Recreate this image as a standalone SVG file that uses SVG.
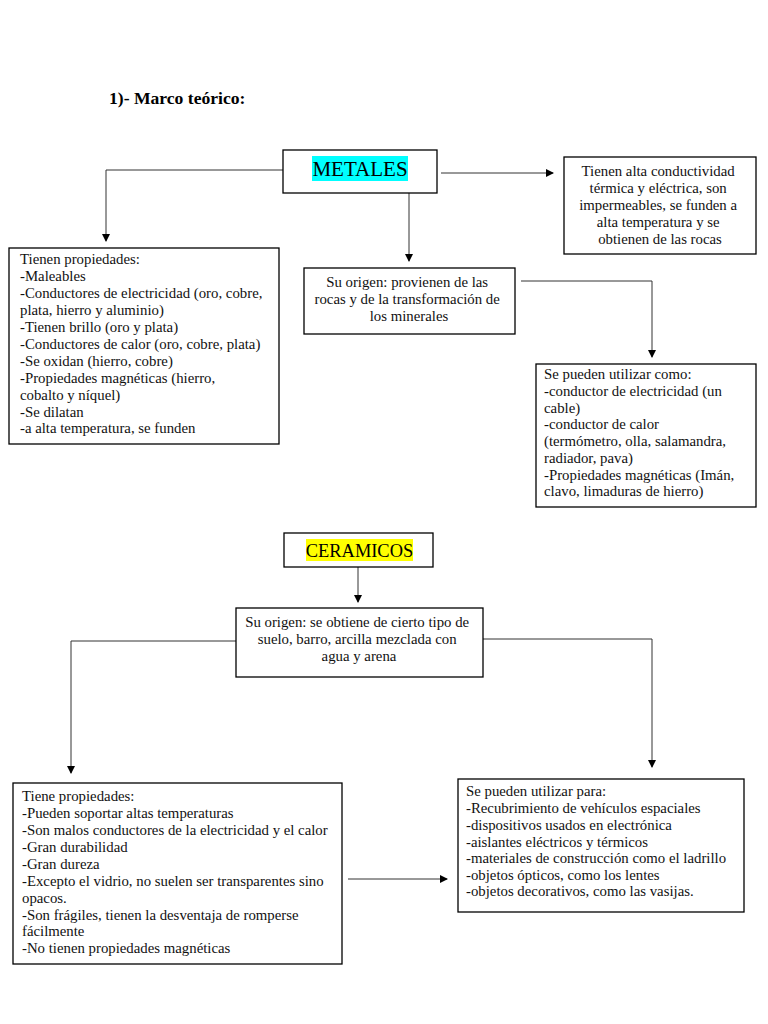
<svg xmlns="http://www.w3.org/2000/svg" width="768" height="1024" viewBox="0 0 768 1024">
<defs>
<marker id="ah" markerWidth="8" markerHeight="8" refX="7" refY="4" orient="auto" markerUnits="userSpaceOnUse">
<path d="M0,0 L8,4 L0,8 Z" fill="#000"/>
</marker>
<style>
.box{fill:#fff;stroke:#000;stroke-width:1.3}
.t{font-family:"Liberation Serif","DejaVu Serif",serif;font-size:14.8px;fill:#111}
.c{text-anchor:middle}
.big{font-family:"Liberation Serif","DejaVu Serif",serif;font-size:21px;fill:#000}
.ln{fill:none;stroke:#333;stroke-width:1}
</style>
</defs>
<rect width="768" height="1024" fill="#fff"/>
<text x="109" y="104" style="font-family:'Liberation Serif',serif;font-size:17.6px;font-weight:bold">1)- Marco teórico:</text>

<g id="connectors">
<polyline class="ln" points="283,170 106,170 106,241" marker-end="url(#ah)"/>
<line class="ln" x1="441" y1="173" x2="553" y2="173" marker-end="url(#ah)"/>
<line class="ln" x1="409" y1="193" x2="409" y2="261" marker-end="url(#ah)"/>
<polyline class="ln" points="521,281 652,281 652,357" marker-end="url(#ah)"/>
<line class="ln" x1="358" y1="567" x2="358" y2="602" marker-end="url(#ah)"/>
<polyline class="ln" points="236,641 71,641 71,773" marker-end="url(#ah)"/>
<polyline class="ln" points="483,639 652,639 652,767" marker-end="url(#ah)"/>
<line class="ln" x1="348" y1="879" x2="447" y2="879" marker-end="url(#ah)"/>
</g>

<g id="metales">
<rect class="box" x="283" y="150" width="154" height="43"/>
<rect x="312" y="156" width="96" height="25" fill="#00ffff"/>
<text class="big c" x="360" y="176">METALES</text>
</g>

<g id="metales-caract">
<rect class="box" x="564" y="157" width="192" height="97"/>
<text class="t c" x="660">
<tspan x="660" y="176">Tienen alta conductividad</tspan>
<tspan x="660" y="193">térmica y eléctrica, son</tspan>
<tspan x="660" y="210">impermeables, se funden a</tspan>
<tspan x="660" y="227">alta temperatura y se</tspan>
<tspan x="660" y="244">obtienen de las rocas</tspan>
</text>
</g>

<g id="metales-prop">
<rect class="box" x="9" y="248" width="270" height="196"/>
<text class="t">
<tspan x="20" y="264">Tienen propiedades:</tspan>
<tspan x="20" y="281">-Maleables</tspan>
<tspan x="20" y="298">-Conductores de electricidad (oro, cobre,</tspan>
<tspan x="20" y="315">plata, hierro y aluminio)</tspan>
<tspan x="20" y="332">-Tienen brillo (oro y plata)</tspan>
<tspan x="20" y="349">-Conductores de calor (oro, cobre, plata)</tspan>
<tspan x="20" y="366">-Se oxidan (hierro, cobre)</tspan>
<tspan x="20" y="383">-Propiedades magnéticas (hierro,</tspan>
<tspan x="20" y="400">cobalto y níquel)</tspan>
<tspan x="20" y="417">-Se dilatan</tspan>
<tspan x="20" y="433">-a alta temperatura, se funden</tspan>
</text>
</g>

<g id="metales-origen">
<rect class="box" x="304" y="268" width="211" height="66"/>
<text class="t c">
<tspan x="409" y="287">Su origen: provienen de las</tspan>
<tspan x="409" y="304">rocas y de la transformación de</tspan>
<tspan x="409" y="321">los minerales</tspan>
</text>
</g>

<g id="metales-usos">
<rect class="box" x="536" y="364" width="220" height="143"/>
<text class="t">
<tspan x="544" y="379">Se pueden utilizar como:</tspan>
<tspan x="544" y="396">-conductor de electricidad (un</tspan>
<tspan x="544" y="413">cable)</tspan>
<tspan x="544" y="429">-conductor de calor</tspan>
<tspan x="544" y="446">(termómetro, olla, salamandra,</tspan>
<tspan x="544" y="463">radiador, pava)</tspan>
<tspan x="544" y="480">-Propiedades magnéticas (Imán,</tspan>
<tspan x="544" y="496">clavo, limaduras de hierro)</tspan>
</text>
</g>

<g id="ceramicos">
<rect class="box" x="284" y="533" width="149" height="34"/>
<rect x="306" y="539" width="107" height="22" fill="#ffff00"/>
<text class="big c" x="359.5" y="557" style="font-size:18.4px">CERAMICOS</text>
</g>

<g id="ceramicos-origen">
<rect class="box" x="236" y="608" width="247" height="69"/>
<text class="t c">
<tspan x="359" y="627">Su origen: se obtiene de cierto tipo de</tspan>
<tspan x="359" y="644">suelo, barro, arcilla mezclada con</tspan>
<tspan x="359" y="661">agua y arena</tspan>
</text>
</g>

<g id="ceramicos-prop">
<rect class="box" x="13" y="783" width="329" height="181"/>
<text class="t">
<tspan x="22" y="801">Tiene propiedades:</tspan>
<tspan x="22" y="818">-Pueden soportar altas temperaturas</tspan>
<tspan x="22" y="835">-Son malos conductores de la electricidad y el calor</tspan>
<tspan x="22" y="852">-Gran durabilidad</tspan>
<tspan x="22" y="869">-Gran dureza</tspan>
<tspan x="22" y="886">-Excepto el vidrio, no suelen ser transparentes sino</tspan>
<tspan x="22" y="903">opacos.</tspan>
<tspan x="22" y="920">-Son frágiles, tienen la desventaja de romperse</tspan>
<tspan x="22" y="936">fácilmente</tspan>
<tspan x="22" y="953">-No tienen propiedades magnéticas</tspan>
</text>
</g>

<g id="ceramicos-usos">
<rect class="box" x="458" y="779" width="286" height="133"/>
<text class="t">
<tspan x="466" y="796">Se pueden utilizar para:</tspan>
<tspan x="466" y="813">-Recubrimiento de vehículos espaciales</tspan>
<tspan x="466" y="830">-dispositivos usados en electrónica</tspan>
<tspan x="466" y="847">-aislantes eléctricos y térmicos</tspan>
<tspan x="466" y="863">-materiales de construcción como el ladrillo</tspan>
<tspan x="466" y="880">-objetos ópticos, como los lentes</tspan>
<tspan x="466" y="896">-objetos decorativos, como las vasijas.</tspan>
</text>
</g>
</svg>
